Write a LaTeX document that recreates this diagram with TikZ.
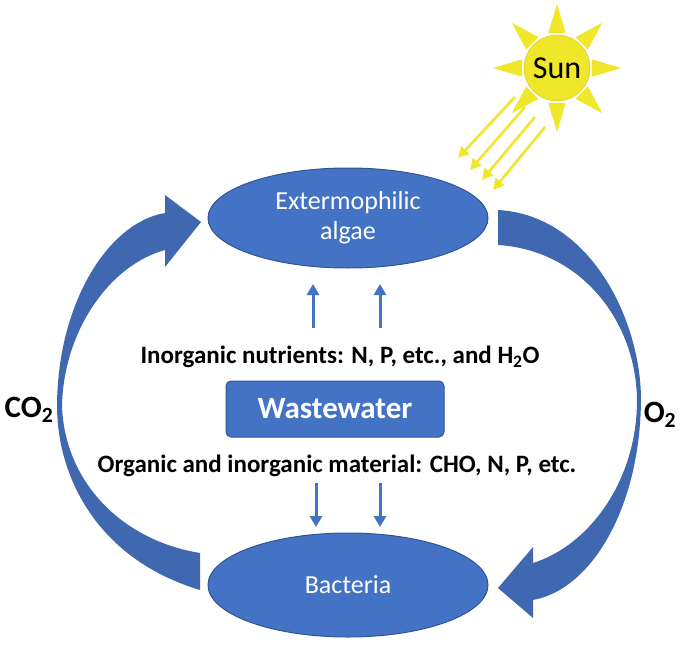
\documentclass[tikz,border=0pt]{standalone}
\usepackage{fontspec}
\setmainfont{Carlito}
\usetikzlibrary{arrows.meta,calc,shapes.geometric}
\begin{document}
\begin{tikzpicture}[x=1pt,y=-1pt,
  blob/.style={fill=bl,draw=bld,line width=1pt},
  big/.style={fill=bla},
  small/.style={draw=bl,line width=3pt,-{Triangle[length=11pt,width=12pt]}},
  ray/.style={draw=sy,line width=2.6pt,-{Triangle[length=11pt,width=11pt]}},
  lab/.style={font=\bfseries\fontsize{25}{28}\selectfont}]
\definecolor{bl}{HTML}{4472C4}
\definecolor{bld}{HTML}{2F5597}
\definecolor{bla}{HTML}{4068B0}
\definecolor{sy}{HTML}{F0E62A}
\useasboundingbox (0,0) rectangle (685,650);
% sun
\foreach \a in {0,45,...,315}{
  \fill[sy] ($(557,68)+(\a:64)$) -- ($(557,68)+(\a+14:36)$) -- ($(557,68)+(\a-14:36)$) -- cycle;}
\node[circle,fill=sy,draw=sy!85!black,minimum size=66pt,inner sep=0,font=\fontsize{32}{34}\selectfont] (sun) at (557,68) {Sun};
\coordinate (r1s) at (515,97); \coordinate (r1e) at (458,158);
\coordinate (r2s) at (525,107); \coordinate (r2e) at (470,170);
\coordinate (r3s) at (535,117); \coordinate (r3e) at (482,180);
\coordinate (r4s) at (545,127); \coordinate (r4e) at (493,190);
\draw[ray] (r1s)--(r1e); \draw[ray] (r2s)--(r2e); \draw[ray] (r3s)--(r3e); \draw[ray] (r4s)--(r4e);
% ellipses
\node[blob,ellipse,minimum width=280pt,minimum height=100pt,text=white,align=center,font=\fontsize{26}{30}\selectfont] (algae) at (348,218) {Extermophilic\\algae};
\node[blob,ellipse,minimum width=280pt,minimum height=104pt,text=white,font=\fontsize{26}{30}\selectfont] (bact) at (348,585) {Bacteria};
\node[blob,rounded corners=5pt,minimum width=218pt,minimum height=56pt,text=white,font=\bfseries\fontsize{31}{34}\selectfont] (ww) at (335,409) {Wastewater};
\node[lab] (inorg) at (340,357) {Inorganic nutrients: N, P, etc., and H\textsubscript{2}O};
\node[lab] (org) at (337,466) {Organic and inorganic material: CHO, N, P, etc.};
\coordinate (u1s) at (313,328); \coordinate (u1e) at (313,284);
\coordinate (u2s) at (380,328); \coordinate (u2e) at (380,284);
\coordinate (d1s) at (316,483); \coordinate (d1e) at (316,527);
\coordinate (d2s) at (380,483); \coordinate (d2e) at (380,527);
\draw[small] (u1s)--(u1e); \draw[small] (u2s)--(u2e);
\draw[small] (d1s)--(d1e); \draw[small] (d2s)--(d2e);
% big arrows
\fill[big] (200,590) .. controls (100,560) and (57,480) .. (57,405) .. controls (58,300) and (110,222) .. (165,213) -- (165,195) -- (201,222) -- (165,267) -- (165,250) .. controls (110,265) and (64,330) .. (62,405) .. controls (64,480) and (120,540) .. (200,553) -- cycle;
\fill[big] (498,210) .. controls (590,215) and (641,320) .. (641,400) .. controls (640,510) and (590,590) .. (533,600) -- (533,618) -- (498,588) -- (533,547) -- (533,563) .. controls (590,545) and (637,480) .. (637,400) .. controls (636,320) and (580,250) .. (498,245) -- cycle;
\node[lab,font=\bfseries\fontsize{31}{34}\selectfont] (co2) at (29,410) {CO\textsubscript{2}};
\node[lab,font=\bfseries\fontsize{31}{34}\selectfont] (o2) at (660,415) {O\textsubscript{2}};
\end{tikzpicture}
\end{document}
